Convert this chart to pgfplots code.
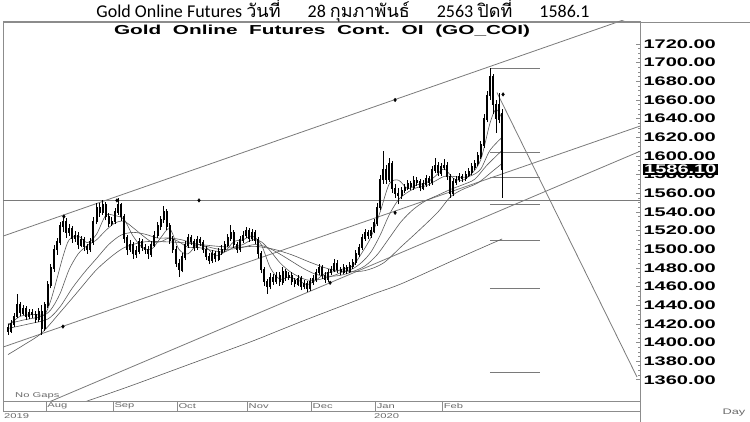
\documentclass[border=0pt]{standalone}
\usepackage{pgfplots}
\usepackage{pgfplotstable}
\pgfplotsset{compat=1.18}
\usepackage{fontspec}
\setmainfont{Liberation Sans}
\newfontfamily\axf{Liberation Sans}[FakeStretch=1.6]
\newfontfamily\calf{Carlito}
\newfontfamily\thaif{Loma}[Script=Thai]
\definecolor{frame}{HTML}{8C8C8C}
\definecolor{tline}{HTML}{7A7A7A}
\definecolor{maline}{HTML}{5A5A5A}
\definecolor{lab}{HTML}{6A6A6A}

% daily candles: index, open, high, low, close
\pgfplotstableread{
i o h l c
1 1416 1420 1408 1412
2 1412 1424 1410 1420
3 1420 1432 1417 1428
4 1428 1452 1426 1440
5 1440 1443 1428 1432
6 1432 1440 1429 1436
7 1436 1439 1424 1428
8 1428 1436 1425 1432
9 1432 1436 1426 1430
10 1430 1434 1421 1425
11 1425 1437 1422 1433
12 1433 1440 1408 1415
13 1415 1443 1412 1440
14 1440 1466 1437 1462
15 1462 1484 1458 1480
16 1480 1504 1476 1500
17 1500 1512 1494 1508
18 1508 1529 1504 1525
19 1525 1536 1518 1530
20 1530 1533 1512 1518
21 1518 1527 1514 1522
22 1522 1525 1507 1512
23 1512 1520 1508 1515
24 1515 1518 1500 1505
25 1505 1514 1502 1510
26 1510 1513 1498 1503
27 1503 1506 1495 1500
28 1500 1512 1497 1508
29 1508 1534 1505 1530
30 1530 1550 1527 1545
31 1545 1549 1535 1540
32 1540 1553 1537 1548
33 1548 1551 1531 1535
34 1535 1539 1524 1528
35 1528 1535 1525 1530
36 1530 1544 1527 1540
37 1540 1555 1537 1548
38 1548 1550 1530 1535
39 1535 1538 1507 1512
40 1512 1515 1494 1500
41 1500 1510 1497 1505
42 1505 1508 1490 1495
43 1495 1503 1491 1498
44 1498 1512 1495 1508
45 1508 1511 1498 1502
46 1502 1506 1495 1500
47 1500 1503 1490 1495
48 1495 1509 1492 1505
49 1505 1519 1502 1515
50 1515 1529 1512 1525
51 1525 1536 1521 1532
52 1532 1546 1528 1540
53 1540 1543 1521 1525
54 1525 1528 1506 1510
55 1510 1514 1496 1500
56 1500 1503 1481 1485
57 1485 1489 1470 1478
58 1478 1496 1475 1492
59 1492 1509 1488 1505
60 1505 1516 1501 1512
61 1512 1515 1504 1508
62 1508 1511 1498 1502
63 1502 1514 1499 1510
64 1510 1513 1503 1507
65 1507 1510 1496 1500
66 1500 1503 1488 1492
67 1492 1496 1484 1488
68 1488 1499 1485 1495
69 1495 1498 1486 1490
70 1490 1501 1487 1497
71 1497 1504 1494 1500
72 1500 1509 1497 1505
73 1505 1516 1502 1512
74 1512 1526 1509 1518
75 1518 1521 1501 1505
76 1505 1508 1496 1500
77 1500 1514 1497 1510
78 1510 1519 1507 1515
79 1515 1524 1512 1520
80 1520 1523 1508 1512
81 1512 1522 1509 1518
82 1518 1521 1506 1510
83 1510 1513 1491 1495
84 1495 1498 1474 1478
85 1478 1481 1461 1465
86 1465 1468 1452 1460
87 1460 1474 1457 1470
88 1470 1473 1462 1466
89 1466 1476 1463 1472
90 1472 1475 1461 1465
91 1465 1481 1462 1476
92 1476 1479 1466 1470
93 1470 1476 1467 1472
94 1472 1475 1462 1466
95 1466 1469 1459 1463
96 1463 1472 1460 1468
97 1468 1471 1456 1460
98 1460 1467 1457 1463
99 1463 1466 1454 1458
100 1458 1469 1455 1465
101 1465 1472 1462 1468
102 1468 1479 1465 1475
103 1475 1484 1472 1480
104 1480 1483 1468 1472
105 1472 1475 1464 1468
106 1468 1479 1465 1475
107 1475 1482 1472 1478
108 1478 1489 1475 1485
109 1485 1488 1474 1478
110 1478 1481 1472 1476
111 1476 1484 1473 1480
112 1480 1483 1473 1477
113 1477 1486 1474 1482
114 1482 1490 1479 1486
115 1486 1499 1483 1495
116 1495 1506 1492 1502
117 1502 1516 1499 1512
118 1512 1522 1509 1518
119 1518 1521 1511 1515
120 1515 1524 1512 1520
121 1520 1532 1517 1528
122 1528 1549 1525 1545
123 1545 1580 1542 1575
124 1575 1605 1570 1585
125 1585 1590 1570 1575
126 1575 1598 1572 1592
127 1592 1595 1560 1565
128 1565 1570 1555 1560
129 1560 1566 1548 1558
130 1558 1567 1554 1563
131 1563 1570 1560 1566
132 1566 1574 1563 1570
133 1570 1573 1563 1567
134 1567 1578 1564 1574
135 1574 1577 1568 1572
136 1572 1575 1562 1566
137 1566 1574 1563 1570
138 1570 1580 1567 1576
139 1576 1579 1568 1572
140 1572 1589 1569 1585
141 1585 1598 1582 1590
142 1590 1593 1578 1582
143 1582 1592 1579 1588
144 1588 1597 1585 1590
145 1590 1593 1574 1578
146 1578 1581 1555 1560
147 1560 1576 1557 1572
148 1572 1579 1569 1575
149 1575 1582 1572 1578
150 1578 1581 1572 1576
151 1576 1584 1573 1580
152 1580 1587 1577 1583
153 1583 1592 1580 1588
154 1588 1596 1585 1592
155 1592 1604 1589 1600
156 1600 1616 1597 1612
157 1612 1645 1609 1640
158 1640 1670 1636 1665
159 1665 1694 1660 1685
160 1685 1688 1645 1655
161 1655 1660 1625 1640
162 1640 1667 1635 1655
163 1645 1650 1555 1586
}\candles

\begin{document}
\begin{tikzpicture}[x=1pt,y=1pt]
\useasboundingbox (0,0) rectangle (750,422);
\begin{axis}[
  at={(3pt,21pt)}, anchor=south west,
  scale only axis, width=637pt, height=380pt,
  xmin=-0.66, xmax=208.2, ymin=1337.2, ymax=1744.7,
  axis line style={draw=frame, line width=0.9pt},
  xtick=\empty,
  ytick={1360,1380,...,1720},
  minor y tick num=3,
  ytick pos=right, yticklabel pos=right,
  tick align=inside,
  major tick length=4pt, minor tick length=2pt,
  tick style={frame, line width=0.5pt},
  /pgf/number format/assume math mode=true,
  yticklabel style={font=\axf\bfseries\fontsize{12.5}{13}\selectfont,
    /pgf/number format/.cd, fixed, fixed zerofill, precision=2, 1000 sep={}},
  ]
  % trend channel and support lines
  \addplot[tline, line width=0.8pt] coordinates {(-0.66,1514)(208.2,1752)};
  \addplot[tline, line width=0.8pt] coordinates {(-0.66,1395)(208.2,1632)};
  \addplot[tline, line width=0.8pt] coordinates {(10,1330)(208.2,1605)};
  \addplot[tline, line width=0.8pt] coordinates {(-0.66,1552.3)(208.2,1552.3)};
  \addplot[tline, line width=0.8pt] coordinates {(161.3,1668)(207.2,1363)};
  % retracement levels
  \foreach \lv in {1694,1604,1577,1548,1509,1458,1368}{
    \edef\tmp{\noexpand\addplot[tline, line width=0.8pt] coordinates {(159,\lv)(175.4,\lv)};}\tmp
  }
  % moving averages
  \addplot[maline, line width=0.6pt, smooth] coordinates {(25,1335)(40,1352)(60,1376)(80,1400)(90,1413)(100,1426)(120,1451)(130,1463)(147,1488)(163,1511)};
  \addplot[maline, line width=0.6pt, smooth] coordinates {(1,1387)(6,1397)(12,1410)(18,1432)(24,1455)(30,1478)(36,1495)(40,1503)(46,1508)(52,1508)(58,1507)(64,1505)(70,1503)(76,1502)(82,1503)(88,1500)(94,1494)(100,1486)(106,1479)(112,1476)(118,1477)(124,1485)(130,1503)(136,1521)(142,1540)(146,1556)(150,1564)(155,1571)(160,1584)(163,1592)};
  \addplot[maline, line width=0.6pt, smooth] coordinates {(1,1415)(8,1420)(14,1425)(18,1438)(22,1458)(26,1475)(30,1490)(34,1505)(38,1515)(42,1518)(46,1516)(50,1512)(54,1512)(58,1510)(62,1506)(66,1503)(70,1500)(74,1500)(78,1502)(82,1505)(86,1502)(90,1495)(94,1487)(98,1479)(102,1473)(106,1471)(110,1472)(114,1476)(118,1482)(122,1494)(126,1512)(130,1530)(134,1543)(138,1552)(142,1558)(146,1564)(150,1569)(154,1575)(158,1590)(163,1606)};
  \addplot[maline, line width=0.6pt, smooth] coordinates {(1,1420)(6,1424)(12,1428)(15,1435)(18,1452)(21,1478)(24,1495)(27,1504)(30,1510)(33,1520)(36,1528)(39,1530)(42,1523)(45,1515)(48,1508)(51,1508)(54,1512)(57,1508)(60,1502)(63,1502)(66,1500)(69,1498)(72,1497)(75,1502)(78,1505)(81,1510)(84,1508)(87,1498)(90,1486)(93,1477)(96,1471)(99,1467)(102,1467)(105,1469)(108,1472)(111,1476)(114,1479)(117,1486)(120,1497)(123,1515)(126,1537)(129,1553)(132,1561)(135,1566)(138,1568)(141,1573)(144,1578)(147,1578)(150,1577)(153,1579)(156,1586)(159,1606)(163,1620)};
  \addplot[maline, line width=0.6pt, smooth] coordinates {(1,1418)(5,1428)(10,1430)(13,1430)(15,1445)(17,1468)(19,1492)(21,1510)(24,1514)(27,1507)(30,1516)(33,1536)(36,1536)(39,1532)(42,1514)(45,1502)(48,1500)(51,1512)(54,1522)(57,1500)(60,1495)(63,1505)(66,1502)(69,1493)(72,1497)(75,1508)(78,1510)(81,1514)(84,1505)(87,1480)(90,1468)(93,1470)(96,1467)(99,1462)(102,1467)(105,1474)(108,1476)(111,1479)(114,1482)(117,1496)(120,1513)(123,1540)(126,1570)(129,1574)(132,1565)(135,1569)(138,1571)(141,1578)(144,1586)(147,1576)(150,1574)(153,1581)(156,1596)(159,1635)(161,1650)(163,1640)};
  % candles: wick then body
  \addplot[draw=none, mark=none, error bars/.cd, y dir=both, y explicit,
    error mark=none, error bar style={draw=black, line width=0.6pt}]
    table[x=i, y=l, y error plus expr=\thisrow{h}-\thisrow{l}, y error minus expr=0] {\candles};
  \addplot[draw=none, mark=none, error bars/.cd, y dir=both, y explicit,
    error mark=none, error bar style={draw=black, line width=2pt}]
    table[x=i, y=o, y error plus expr={max(\thisrow{c}-\thisrow{o},0)+0.7},
      y error minus expr={max(\thisrow{o}-\thisrow{c},0)+0.7}] {\candles};
  % anchor points
  \addplot[only marks, mark=diamond*, mark size=1.8pt, black] coordinates {
    (19.3,1535)(36.7,1552.3)(63.6,1552.3)(127.9,1660)(19,1417)(127.9,1539)(106.6,1464)(163.3,1666)};
\end{axis}
\begin{scope}[shift={(0,422)}, yscale=-1]
  % frame around the price area
  \draw[frame, line width=0.9pt] (3,22) -- (750,22);
  \draw[frame, line width=0.9pt] (3,401) -- (3,411) -- (640,411);
  \draw[frame, line width=0.9pt] (640,401) -- (640,422);
  \foreach \px in {46.2,113.3,177.3,247.5,311.5,375.6,442.7}
    \draw[frame, line width=0.6pt] (\px,401) -- (\px,411);
  \foreach \px/\m in {46.2/Aug,113.3/Sep,177.3/Oct,247.5/Nov,311.5/Dec,375.6/Jan,442.7/Feb}
    \node[anchor=west, inner sep=1pt, text=lab, font=\axf\fontsize{7}{8}\selectfont] at (\px,406) {\m};
  \node[anchor=west, inner sep=1pt, text=lab, font=\axf\fontsize{7}{8}\selectfont] at (3,416.5) {2019};
  \node[anchor=west, inner sep=1pt, text=lab, font=\axf\fontsize{7}{8}\selectfont] at (373,416.5) {2020};
  \node[anchor=west, inner sep=1pt, text=lab, font=\axf\fontsize{7}{8}\selectfont] at (14,396) {No Gaps};
  \node[text=lab, font=\axf\fontsize{8}{9}\selectfont] at (734,413) {Day};
  % last price box
  \node[anchor=west, fill=black, text=white, inner sep=1pt,
    font=\axf\bfseries\fontsize{12.5}{13}\selectfont] at (643,169.5) {1586.10};
  % titles
  \node[font=\axf\bfseries\fontsize{13}{14}\selectfont] at (322,31.5)
    {Gold\ \ Online\ \ Futures\ \ Cont.\ \ OI\ \ (GO\_COI)};
  \node[anchor=base, inner sep=0pt, font=\calf\fontsize{18}{20}\selectfont] at (343,17.5)
    {Gold Online Futures {\thaif\fontsize{18}{20}\selectfont วันที่}\hspace{27pt}28
     {\thaif\fontsize{18}{20}\selectfont กุมภาพันธ์}\hspace{27pt}2563
     {\thaif\fontsize{18}{20}\selectfont ปิดที่}\hspace{27pt}1586.1};
\end{scope}
\end{tikzpicture}
\end{document}
